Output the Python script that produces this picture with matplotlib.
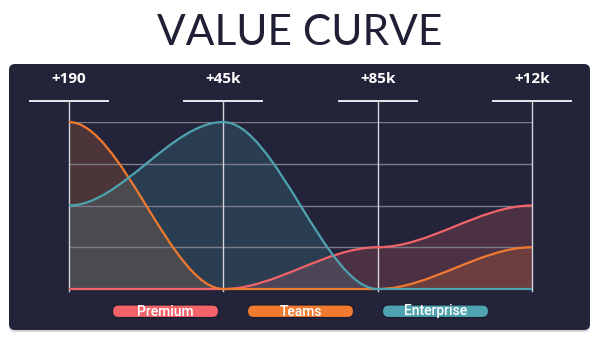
import matplotlib.pyplot as plt
from matplotlib.path import Path
from matplotlib.patches import PathPatch, FancyBboxPatch

W, H = 600, 338

stages = ["+190", "+45k", "+85k", "+12k"]
levels = [0, 1, 2, 3, 4]
series_names = ["Premium", "Teams", "Enterprise"]
premium = [0, 0, 1, 2]
teams = [4, 0, 0, 1]
enterprise = [2, 4, 0, 0]
series_colors = ["#f2646a", "#f07a30", "#4fa3b0"]

BG = "#23243a"


def smooth_path(vals, closed=False):
    # flat tangent at every stage, eased in between
    verts = [(0, vals[0])]
    codes = [Path.MOVETO]
    for i in range(len(vals) - 1):
        verts += [(i + 1 / 3, vals[i]), (i + 2 / 3, vals[i + 1]), (i + 1, vals[i + 1])]
        codes += [Path.CURVE4] * 3
    if closed:
        verts += [(len(vals) - 1, 0), (0, 0), (0, vals[0])]
        codes += [Path.LINETO, Path.LINETO, Path.CLOSEPOLY]
    return Path(verts, codes)


fig = plt.figure(figsize=(6, 3.38), dpi=100)
fig.patch.set_facecolor("white")

# background axes in pixel units (top-left origin)
bg = fig.add_axes([0, 0, 1, 1], zorder=0)
bg.set_xlim(0, W)
bg.set_ylim(H, 0)
bg.axis("off")

bg.add_patch(FancyBboxPatch((9, 65), 581, 267, boxstyle="round,pad=0,rounding_size=6",
                            fc="#d6d6da", ec="none"))
bg.add_patch(FancyBboxPatch((9, 64), 581, 266, boxstyle="round,pad=0,rounding_size=6",
                            fc=BG, ec="none"))

bg.text(300, 45, "VALUE CURVE", ha="center", va="baseline",
        family="Lato", fontsize=30.5, color="#1f2036")

# legend pills
centers = [165.5, 300.5, 435.5]
for name, col, cx in zip(series_names, series_colors, centers):
    bg.add_patch(FancyBboxPatch((cx - 53, 305), 106, 12.5,
                                boxstyle="round,pad=0,rounding_size=6",
                                fc=col, ec="#1a1b2c", lw=0.8))
    bg.text(cx, 315.5, name, ha="center", va="baseline",
            family="Roboto", fontweight="medium", fontsize=10, color="white")

# chart axes mapped onto the pixel grid of the reference
ax = fig.add_axes([69 / W, (H - 289) / H, (532 - 69) / W, (289 - 122) / H], zorder=1)
ax.set_xlim(0, 3)
ax.set_ylim(0, 4)
ax.axis("off")

for lv in levels:
    ax.plot([0, 3], [lv, lv], color="#7c7c88", lw=1, zorder=3)

for i, lab in enumerate(stages):
    ax.plot([i, i], [-0.05, 4.5], color="#d4d4dc", lw=1, zorder=3, clip_on=False)
    ax.plot([i - 0.253, i + 0.253], [4.5, 4.5], color="#e8e8ee", lw=1.4, clip_on=False)
    ax.text(i, 4.93, lab, ha="center", va="baseline", family="Open Sans",
            fontweight="bold", fontsize=11, color="white", clip_on=False)

for k, (vals, col) in enumerate(zip([premium, teams, enterprise], series_colors)):
    ax.add_patch(PathPatch(smooth_path(vals, closed=True), fc=col, alpha=0.2,
                           ec="none", zorder=1))
    ax.add_patch(PathPatch(smooth_path(vals), fc="none", ec=col, lw=1.6,
                           zorder=5 + k, clip_on=False))

fig.savefig("out.png", dpi=100, facecolor="white")
plt.close(fig)
